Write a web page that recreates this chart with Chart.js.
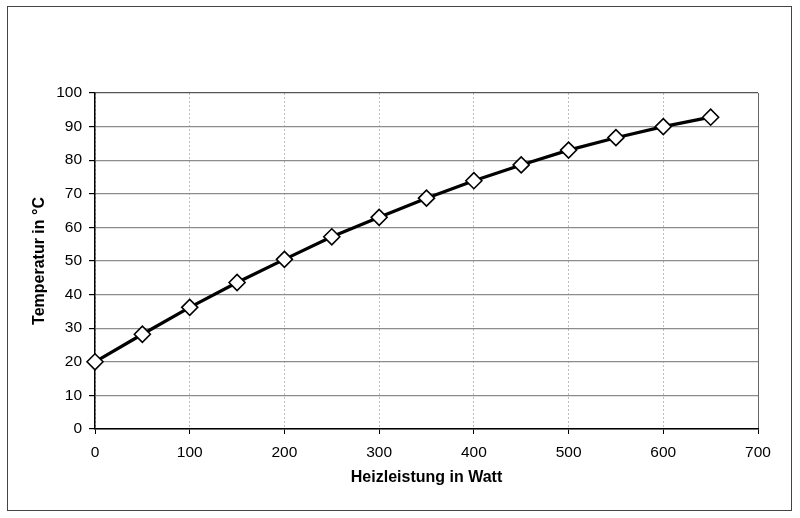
<!DOCTYPE html>
<html>
<head>
<meta charset="utf-8">
<script src="https://cdn.jsdelivr.net/npm/chart.js@4"></script>
<style>
  html, body { margin: 0; padding: 0; background: #fff; }
  #wrap { position: relative; width: 800px; height: 518px; }
  #frame { position: absolute; left: 7px; top: 6px; width: 783px; height: 503px; border: 1.5px solid #444; pointer-events: none; }
  canvas { position: absolute; left: 0; top: 0; }
</style>
</head>
<body>
<div id="wrap">
  <canvas id="c" width="800" height="518"></canvas>
  <div id="frame"></div>
</div>
<script>
const heatPower = [0, 50, 100, 150, 200, 250, 300, 350, 400, 450, 500, 550, 600, 650];
const temperature = [20, 28.2, 36.2, 43.6, 50.5, 57.2, 63.0, 68.7, 73.9, 78.6, 83.0, 86.7, 90.0, 92.8];
const xTitle = 'Heizleistung in Watt';
const yTitle = 'Temperatur in °C';
const xRange = [0, 700, 100];
const yRange = [0, 100, 10];

const points = heatPower.map((x, i) => ({ x: x, y: temperature[i] }));
const tickFont = { family: '"Liberation Sans", Arial, sans-serif', size: 15.5 };
const titleFont = { family: '"Liberation Sans", Arial, sans-serif', size: 16, weight: 'bold' };

new Chart(document.getElementById('c'), {
  type: 'line',
  data: {
    datasets: [{
      data: points,
      borderColor: '#000',
      borderWidth: 3.2,
      tension: 0,
      clip: false,
      pointStyle: 'rectRot',
      pointRadius: 8,
      pointHoverRadius: 8,
      pointBackgroundColor: '#fff',
      pointBorderColor: '#000',
      pointBorderWidth: 1.6
    }]
  },
  options: {
    responsive: false,
    animation: false,
    devicePixelRatio: 1,
    layout: { padding: { top: 93, right: 42, bottom: 28, left: 0 } },
    plugins: { legend: { display: false }, tooltip: { enabled: false } },
    scales: {
      x: {
        type: 'linear',
        min: xRange[0], max: xRange[1],
        afterFit: s => { s.height = 518 - 28 - 429; },
        ticks: { stepSize: xRange[2], color: '#000', font: tickFont, padding: 9, maxRotation: 0 },
        grid: {
          color: ctx => (ctx.tick && ctx.tick.value === xRange[1]) ? '#666' : '#bdbdbd',
          lineWidth: 1,
          tickLength: 5,
          tickColor: '#000'
        },
        border: {
          display: true, color: '#000', width: 1.5,
          dash: ctx => (ctx.tick && ctx.tick.value === xRange[1]) ? [] : [2, 2]
        },
        title: { display: true, text: xTitle, color: '#000', font: titleFont, padding: { top: 0, bottom: 3 } }
      },
      y: {
        min: yRange[0], max: yRange[1],
        afterFit: s => { s.width = 95; },
        ticks: { stepSize: yRange[2], color: '#000', font: tickFont, padding: 7 },
        grid: {
          color: ctx => (ctx.tick && ctx.tick.value === yRange[1]) ? '#555' : '#8c8c8c',
          lineWidth: 1.2,
          tickLength: 6,
          tickColor: '#000'
        },
        border: { display: true, color: '#000', width: 1.5 },
        title: { display: true, text: yTitle, color: '#000', font: titleFont, padding: { top: 30, bottom: 0 } }
      }
    }
  }
});
</script>
</body>
</html>
